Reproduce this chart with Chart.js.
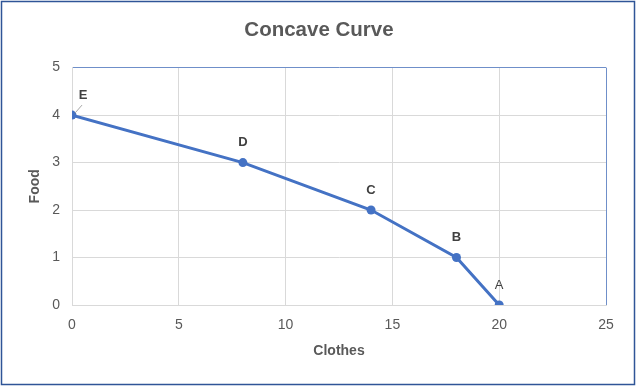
<!DOCTYPE html>
<html>
<head>
<meta charset="utf-8">
<script src="https://cdn.jsdelivr.net/npm/chart.js@4.4.0/dist/chart.umd.min.js"></script>
<style>
  html, body { margin: 0; padding: 0; background: #fff; }
  #wrap { width: 638px; height: 388px; }
</style>
</head>
<body>
<div id="wrap"><canvas id="myChart" width="638" height="388"></canvas></div>
<script>
// DATA

var clothes = [0, 8, 14, 18, 20];
var food = [4, 3, 2, 1, 0];
var pointNames = ['E', 'D', 'C', 'B', 'A'];
var boldNames = [true, true, true, true, false];

var blue = '#4472C4';
var gridGrey = '#D9D9D9';
var textGrey = '#595959';
var fontFamily = "'Liberation Sans', Arial, sans-serif";

// OUTER BORDER

var borderPlugin = {
    id: 'outerBorder',
    beforeDraw: function (chart) {
        var ctx = chart.ctx;
        ctx.save();
        ctx.fillStyle = '#fff';
        ctx.fillRect(0, 0, chart.width, chart.height);
        ctx.strokeStyle = '#2F5597';
        ctx.lineWidth = 1.5;
        ctx.strokeRect(1.5, 1.5, 633, 383);
        ctx.restore();
    }
};

// POINT LABELS

var pointLabels = {
    id: 'pointLabels',
    afterDatasetsDraw: function (chart) {
        var ctx = chart.ctx;
        var meta = chart.getDatasetMeta(0);
        ctx.save();
        ctx.textAlign = 'center';
        ctx.textBaseline = 'middle';
        ctx.fillStyle = '#404040';
        meta.data.forEach(function (pt, i) {
            var dx = 0;
            if (i === 0) {
                dx = 11;
                ctx.strokeStyle = '#A6A6A6';
                ctx.lineWidth = 1;
                ctx.beginPath();
                ctx.moveTo(pt.x + 3, pt.y - 2);
                ctx.lineTo(pt.x + 10, pt.y - 10);
                ctx.stroke();
            }
            ctx.font = (boldNames[i] ? 'bold ' : '') + '13px ' + fontFamily;
            ctx.fillText(pointNames[i], pt.x + dx, pt.y - 20);
        });
        ctx.restore();
    }
};

var points = clothes.map(function (c, i) {
    return { x: c, y: food[i] };
});

var ctx = document.getElementById('myChart').getContext('2d');

var chart = new Chart(ctx, {
    type: 'scatter',
    data: {
        datasets: [{
            label: 'Concave Curve',
            data: points,
            showLine: true,
            borderColor: blue,
            backgroundColor: blue,
            borderWidth: 3,
            pointRadius: 4.5,
            pointBorderWidth: 0,
            pointHoverRadius: 4.5
        }]
    },
    options: {
        responsive: false,
        animation: false,
        events: [],
        layout: { padding: 0 },
        plugins: {
            legend: { display: false },
            tooltip: { enabled: false },
            title: {
                display: true,
                text: 'Concave Curve',
                color: textGrey,
                font: { family: fontFamily, size: 20.5, weight: 'bold' },
                padding: { top: 18, bottom: 25 }
            }
        },
        scales: {
            x: {
                type: 'linear',
                min: 0,
                max: 25,
                ticks: {
                    stepSize: 5,
                    color: textGrey,
                    padding: 12,
                    font: { family: fontFamily, size: 14 }
                },
                grid: {
                    drawTicks: false,
                    color: function (c) { return c.tick && c.tick.value === 25 ? '#6F8FC9' : gridGrey; },
                    lineWidth: 1
                },
                border: { color: gridGrey },
                title: {
                    display: true,
                    text: 'Clothes',
                    color: textGrey,
                    font: { family: fontFamily, size: 14, weight: 'bold' },
                    padding: { top: 0, bottom: 28 }
                },
                afterFit: function (scale) { scale.height = 83; }
            },
            y: {
                min: 0,
                max: 5,
                ticks: {
                    stepSize: 1,
                    color: textGrey,
                    padding: 12,
                    font: { family: fontFamily, size: 14 }
                },
                grid: {
                    drawTicks: false,
                    color: function (c) { return c.tick && c.tick.value === 5 ? '#6F8FC9' : gridGrey; },
                    lineWidth: 1
                },
                border: { color: gridGrey },
                title: {
                    display: true,
                    text: 'Food',
                    color: textGrey,
                    font: { family: fontFamily, size: 14, weight: 'bold' },
                    padding: { top: 27, bottom: 0 }
                },
                afterFit: function (scale) { scale.width = 72; }
            },
            // empty right margin so the title centres over the whole canvas
            yRight: {
                position: 'right',
                min: 0,
                max: 5,
                ticks: { display: false },
                grid: { display: false, drawTicks: false },
                border: { display: false },
                afterFit: function (scale) { scale.width = 32; }
            }
        }
    },
    plugins: [borderPlugin, pointLabels]
});
</script>
</body>
</html>
